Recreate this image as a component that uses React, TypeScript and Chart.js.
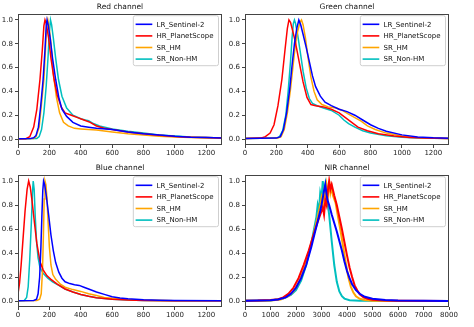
import React, { useEffect, useRef } from "react";
import { Chart, registerables } from "chart.js";
Chart.register(...registerables);

const SERIES_LABELS = ["LR_Sentinel-2", "HR_PlanetScope", "SR_HM", "SR_Non-HM"];
const SERIES_COLORS = ["#0000ff", "#ff0000", "#ffa500", "#00bfbf"];
const Y_TICKS = [0, 0.2, 0.4, 0.6, 0.8, 1.0];
const VIS_X_TICKS = [0, 200, 400, 600, 800, 1000, 1200];
const NIR_X_TICKS = [0, 1000, 2000, 3000, 4000, 5000, 6000, 7000, 8000];

// ---- Red channel ----
const RED_LR = [[0,0.003],[80,0.005],[100,0.01],[115,0.03],[130,0.1],[145,0.28],[160,0.5],[172,0.75],[180,0.95],[185,1.0],[192,0.96],[205,0.85],[220,0.68],[240,0.5],[260,0.35],[280,0.25],[310,0.19],[350,0.14],[400,0.11],[450,0.1],[500,0.09],[600,0.08],[700,0.06],[800,0.045],[900,0.033],[1000,0.023],[1100,0.016],[1200,0.012],[1300,0.009]];
const RED_HR = [[0,0.002],[50,0.003],[75,0.02],[100,0.1],[120,0.25],[140,0.5],[155,0.75],[165,0.95],[172,1.0],[180,0.97],[195,0.85],[210,0.68],[230,0.5],[250,0.37],[275,0.27],[300,0.22],[340,0.2],[380,0.18],[420,0.16],[460,0.14],[500,0.11],[550,0.09],[600,0.08],[700,0.06],[800,0.045],[900,0.032],[1000,0.022],[1100,0.016],[1200,0.012],[1300,0.009]];
const RED_SRHM = [[0,0.003],[100,0.005],[115,0.02],[135,0.1],[150,0.3],[165,0.5],[175,0.75],[183,0.95],[190,1.0],[197,0.95],[210,0.8],[225,0.55],[245,0.35],[265,0.22],[290,0.14],[320,0.11],[360,0.09],[400,0.085],[500,0.075],[600,0.06],[700,0.045],[800,0.033],[900,0.024],[1000,0.017],[1100,0.012],[1200,0.009],[1300,0.007]];
const RED_SRNHM = [[0,0.003],[120,0.005],[135,0.02],[150,0.08],[165,0.22],[180,0.45],[192,0.7],[200,0.9],[207,1.0],[214,0.96],[225,0.85],[240,0.68],[258,0.5],[280,0.36],[310,0.26],[350,0.2],[400,0.17],[430,0.16],[450,0.155],[480,0.13],[520,0.11],[600,0.085],[700,0.065],[800,0.05],[900,0.035],[1000,0.025],[1100,0.017],[1200,0.012],[1300,0.009]];

// ---- Green channel ----
const GREEN_LR = [[0,0.005],[200,0.008],[225,0.02],[245,0.08],[265,0.22],[285,0.42],[300,0.62],[315,0.8],[330,0.93],[343,1.0],[355,0.96],[370,0.88],[390,0.77],[410,0.65],[430,0.53],[450,0.44],[480,0.36],[510,0.31],[550,0.28],[600,0.25],[650,0.23],[700,0.2],[750,0.16],[800,0.12],[850,0.09],[900,0.065],[1000,0.035],[1100,0.018],[1200,0.01],[1300,0.006]];
const GREEN_HR = [[0,0.005],[100,0.008],[130,0.02],[160,0.05],[185,0.12],[210,0.28],[235,0.5],[255,0.75],[270,0.93],[280,1.0],[290,0.98],[300,0.93],[320,0.82],[345,0.65],[370,0.48],[395,0.35],[420,0.29],[450,0.28],[500,0.27],[550,0.25],[600,0.22],[640,0.18],[680,0.14],[720,0.1],[780,0.07],[850,0.045],[950,0.025],[1050,0.014],[1150,0.008],[1300,0.004]];
const GREEN_SRHM = [[0,0.005],[210,0.008],[230,0.02],[250,0.08],[270,0.22],[290,0.42],[305,0.6],[320,0.78],[335,0.9],[350,0.98],[360,1.0],[370,0.96],[385,0.85],[400,0.7],[420,0.52],[440,0.4],[460,0.33],[490,0.29],[530,0.27],[580,0.26],[620,0.24],[660,0.21],[700,0.18],[740,0.15],[780,0.11],[830,0.08],[900,0.05],[1000,0.025],[1100,0.013],[1200,0.007],[1300,0.004]];
const GREEN_SRNHM = [[0,0.005],[200,0.008],[220,0.02],[240,0.07],[260,0.2],[275,0.4],[290,0.65],[300,0.85],[308,0.97],[315,1.0],[322,0.97],[335,0.88],[350,0.75],[370,0.57],[390,0.43],[410,0.34],[430,0.3],[460,0.28],[500,0.26],[550,0.24],[600,0.2],[630,0.16],[660,0.13],[700,0.1],[750,0.07],[800,0.05],[900,0.028],[1000,0.015],[1100,0.009],[1300,0.004]];

// ---- Blue channel ----
const BLUE_LR = [[0,0.003],[100,0.005],[118,0.015],[128,0.06],[138,0.2],[146,0.45],[152,0.7],[158,0.92],[163,1.0],[170,0.97],[180,0.88],[195,0.72],[210,0.55],[225,0.42],[240,0.32],[260,0.24],[280,0.19],[300,0.16],[330,0.145],[360,0.135],[390,0.13],[420,0.115],[450,0.1],[500,0.075],[550,0.055],[600,0.035],[650,0.025],[700,0.018],[800,0.01],[900,0.006],[1000,0.004],[1300,0.002]];
const BLUE_HR = [[0,0.06],[10,0.15],[20,0.3],[30,0.48],[45,0.75],[58,0.93],[68,1.0],[78,0.95],[90,0.83],[105,0.65],[120,0.48],[140,0.33],[160,0.26],[185,0.21],[210,0.18],[250,0.14],[300,0.1],[350,0.075],[400,0.055],[450,0.04],[500,0.028],[600,0.014],[700,0.008],[800,0.005],[1000,0.003],[1300,0.002]];
const BLUE_SRHM = [[0,0.003],[120,0.005],[138,0.015],[148,0.06],[156,0.25],[162,0.55],[167,0.85],[172,1.0],[178,0.97],[185,0.85],[192,0.65],[200,0.45],[210,0.3],[222,0.22],[240,0.18],[270,0.14],[300,0.115],[350,0.095],[400,0.08],[450,0.06],[500,0.045],[550,0.03],[600,0.022],[700,0.012],[800,0.007],[1000,0.003],[1300,0.002]];
const BLUE_SRNHM = [[0,0.003],[40,0.005],[55,0.03],[65,0.12],[75,0.35],[85,0.65],[92,0.9],[97,1.0],[103,0.93],[110,0.7],[118,0.5],[128,0.36],[140,0.28],[160,0.23],[190,0.19],[220,0.16],[260,0.13],[300,0.1],[350,0.075],[400,0.055],[450,0.04],[500,0.028],[600,0.014],[700,0.008],[800,0.005],[1000,0.003],[1300,0.002]];

// ---- NIR channel ----
const NIR_LR = [[0,0.003],[500,0.004],[1000,0.006],[1300,0.012],[1600,0.03],[1800,0.06],[2000,0.11],[2200,0.19],[2400,0.3],[2600,0.45],[2750,0.58],[2850,0.66],[2950,0.75],[3000,0.8],[3050,0.86],[3100,0.92],[3150,0.97],[3200,0.88],[3250,0.83],[3300,0.8],[3350,0.76],[3400,0.72],[3500,0.65],[3600,0.58],[3700,0.5],[3800,0.42],[3900,0.33],[4000,0.25],[4100,0.19],[4200,0.14],[4350,0.09],[4500,0.06],[4700,0.035],[5000,0.018],[5500,0.008],[6000,0.004],[7000,0.002],[8000,0.001]];
const NIR_HR = [[0,0.003],[500,0.004],[1000,0.008],[1300,0.015],[1500,0.03],[1700,0.06],[1900,0.11],[2100,0.19],[2300,0.3],[2500,0.42],[2700,0.56],[2850,0.66],[2950,0.72],[3050,0.78],[3100,0.72],[3150,0.84],[3200,0.8],[3250,0.92],[3300,1.0],[3350,0.93],[3400,0.97],[3500,0.88],[3600,0.8],[3700,0.7],[3800,0.6],[3900,0.49],[4000,0.38],[4100,0.28],[4200,0.2],[4300,0.13],[4400,0.09],[4500,0.055],[4650,0.03],[4800,0.018],[5000,0.01],[5500,0.004],[6000,0.002],[8000,0.001]];
const NIR_SRHM = [[0,0.002],[1000,0.004],[1400,0.012],[1700,0.04],[1900,0.08],[2100,0.15],[2300,0.26],[2500,0.4],[2700,0.56],[2850,0.7],[2950,0.8],[3000,0.86],[3050,0.8],[3100,0.9],[3150,0.84],[3200,0.96],[3250,0.88],[3300,1.0],[3350,0.9],[3400,0.95],[3450,0.88],[3550,0.82],[3650,0.7],[3750,0.58],[3850,0.45],[3950,0.32],[4050,0.2],[4150,0.12],[4250,0.07],[4350,0.04],[4500,0.018],[4700,0.008],[5000,0.003],[8000,0.001]];
const NIR_SRNHM = [[0,0.003],[500,0.003],[1000,0.005],[1500,0.02],[1800,0.05],[2000,0.09],[2200,0.17],[2400,0.3],[2600,0.48],[2800,0.7],[2850,0.8],[2900,0.75],[2950,0.9],[3000,0.85],[3050,1.0],[3100,0.9],[3150,0.97],[3200,0.88],[3300,0.72],[3400,0.5],[3500,0.3],[3600,0.16],[3700,0.08],[3800,0.04],[3900,0.02],[4100,0.006],[4500,0.002],[8000,0.001]];

const FONT = '"DejaVu Sans", sans-serif';

type Pts = number[][];

interface PanelProps {
  title: string;
  series: Pts[];
  xMax: number;
  xTicks: number[];
  left: number;
  top: number;
  width: number;
  height: number;
  padTop: number;
  padRight: number;
  xAxisH: number;
  lineWidth: number;
}

const framePlugin = {
  id: "frame",
  afterDraw(chart: any) {
    const { ctx, chartArea } = chart;
    ctx.save();
    ctx.strokeStyle = "#444";
    ctx.lineWidth = 1;
    ctx.strokeRect(
      Math.round(chartArea.left) + 0.5,
      Math.round(chartArea.top) + 0.5,
      Math.round(chartArea.right - chartArea.left) - 1,
      Math.round(chartArea.bottom - chartArea.top) - 1
    );
    ctx.restore();
  },
};

function makeTitlePlugin(title: string) {
  return {
    id: "panelTitle",
    afterDraw(chart: any) {
      const { ctx, chartArea } = chart;
      ctx.save();
      ctx.font = `7.5px ${FONT}`;
      ctx.fillStyle = "#111";
      ctx.textAlign = "center";
      ctx.textBaseline = "middle";
      ctx.fillText(title, (chartArea.left + chartArea.right) / 2, chartArea.top - 7);
      ctx.restore();
    },
  };
}

const legendPlugin = {
  id: "boxLegend",
  afterDraw(chart: any) {
    const { ctx, chartArea } = chart;
    const ds = chart.data.datasets;
    ctx.save();
    ctx.font = `7px ${FONT}`;
    let tw = 0;
    ds.forEach((d: any) => {
      tw = Math.max(tw, ctx.measureText(d.label).width);
    });
    const boxW = 23.3 + tw + 5;
    const boxH = 50;
    const right = chartArea.right - 3.5;
    const left = right - boxW;
    const top = chartArea.top + 1.7;
    const r = 2;
    ctx.beginPath();
    ctx.moveTo(left + r, top);
    ctx.lineTo(right - r, top);
    ctx.quadraticCurveTo(right, top, right, top + r);
    ctx.lineTo(right, top + boxH - r);
    ctx.quadraticCurveTo(right, top + boxH, right - r, top + boxH);
    ctx.lineTo(left + r, top + boxH);
    ctx.quadraticCurveTo(left, top + boxH, left, top + boxH - r);
    ctx.lineTo(left, top + r);
    ctx.quadraticCurveTo(left, top, left + r, top);
    ctx.closePath();
    ctx.fillStyle = "rgba(255,255,255,0.85)";
    ctx.fill();
    ctx.strokeStyle = "#cfcfcf";
    ctx.lineWidth = 1;
    ctx.stroke();
    ds.forEach((d: any, i: number) => {
      const y = top + 8.6 + i * 11.6;
      ctx.strokeStyle = d.borderColor;
      ctx.lineWidth = 1.6;
      ctx.beginPath();
      ctx.moveTo(left + 2.3, y);
      ctx.lineTo(left + 19, y);
      ctx.stroke();
      ctx.fillStyle = "#111";
      ctx.textAlign = "left";
      ctx.textBaseline = "middle";
      ctx.fillText(d.label, left + 23.3, y + 0.5);
    });
    ctx.restore();
  },
};

function Panel(p: PanelProps) {
  const ref = useRef<HTMLCanvasElement | null>(null);
  useEffect(() => {
    if (!ref.current) return;
    const chart = new Chart(ref.current, {
      type: "line",
      data: {
        datasets: p.series.map((pts, i) => ({
          label: SERIES_LABELS[i],
          data: pts.map(([x, y]) => ({ x, y })),
          borderColor: SERIES_COLORS[i],
          backgroundColor: SERIES_COLORS[i],
          borderWidth: p.lineWidth,
          pointRadius: 0,
          tension: 0,
          fill: false,
        })),
      },
      options: {
        responsive: false,
        animation: false,
        events: [],
        layout: { padding: { top: p.padTop, right: p.padRight, left: 0, bottom: 0 } },
        plugins: {
          legend: { display: false },
          tooltip: { enabled: false },
          title: { display: false },
        },
        scales: {
          x: {
            type: "linear",
            min: 0,
            max: p.xMax,
            afterBuildTicks: (s: any) => {
              s.ticks = p.xTicks.map((v) => ({ value: v }));
            },
            afterFit: (s: any) => {
              s.height = p.xAxisH;
            },
            ticks: {
              autoSkip: false,
              maxRotation: 0,
              padding: 1,
              color: "#222",
              font: { family: FONT, size: 7 },
              callback: (v: any) => String(v),
            },
            grid: { drawOnChartArea: false, drawTicks: true, tickLength: 3, color: "#444" },
            border: { display: false },
          },
          y: {
            type: "linear",
            min: -0.05,
            max: 1.05,
            afterBuildTicks: (s: any) => {
              s.ticks = Y_TICKS.map((v) => ({ value: v }));
            },
            afterFit: (s: any) => {
              s.width = 18;
            },
            ticks: {
              padding: 2,
              color: "#222",
              font: { family: FONT, size: 7 },
              callback: (v: any) => Number(v).toFixed(1),
            },
            grid: { drawOnChartArea: false, drawTicks: true, tickLength: 3, color: "#444" },
            border: { display: false },
          },
        },
      } as any,
      plugins: [framePlugin, makeTitlePlugin(p.title), legendPlugin],
    });
    return () => chart.destroy();
  }, []);
  return (
    <canvas
      ref={ref}
      width={p.width}
      height={p.height}
      style={{ position: "absolute", left: p.left, top: p.top, width: p.width, height: p.height }}
    />
  );
}

export default function App() {
  return (
    <div style={{ position: "absolute", left: 0, top: 0, width: 474, height: 327, background: "#fff" }}>
      <Panel title="Red channel" series={[RED_LR, RED_HR, RED_SRHM, RED_SRNHM]} xMax={1300} xTicks={VIS_X_TICKS}
        left={0} top={0} width={227} height={160} padTop={14} padRight={5} xAxisH={15} lineWidth={1.5} />
      <Panel title="Green channel" series={[GREEN_LR, GREEN_HR, GREEN_SRHM, GREEN_SRNHM]} xMax={1300} xTicks={VIS_X_TICKS}
        left={227} top={0} width={247} height={160} padTop={14} padRight={25} xAxisH={15} lineWidth={1.5} />
      <Panel title="Blue channel" series={[BLUE_LR, BLUE_HR, BLUE_SRHM, BLUE_SRNHM]} xMax={1300} xTicks={VIS_X_TICKS}
        left={0} top={160} width={227} height={167} padTop={15} padRight={5} xAxisH={20} lineWidth={1.5} />
      <Panel title="NIR channel" series={[NIR_LR, NIR_HR, NIR_SRHM, NIR_SRNHM]} xMax={8000} xTicks={NIR_X_TICKS}
        left={227} top={160} width={247} height={167} padTop={15} padRight={25} xAxisH={20} lineWidth={2} />
    </div>
  );
}
